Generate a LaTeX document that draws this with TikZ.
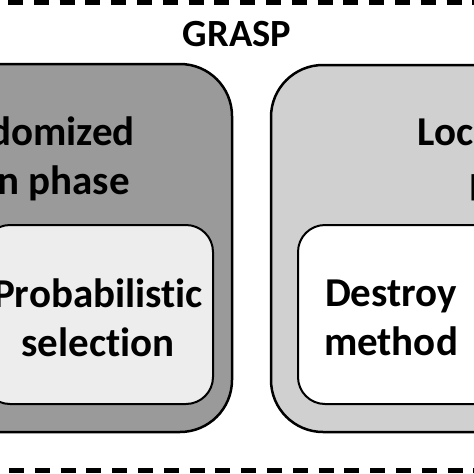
\documentclass[tikz,border=0pt]{standalone}
\usepackage{fontspec}
\setmainfont{Carlito}[Ligatures=NoCommon]
\definecolor{outerdark}{HTML}{9A9A9A}
\definecolor{outerlight}{HTML}{D0D0D0}
\definecolor{innerlight}{HTML}{EDEDED}
\tikzset{
  dashrule/.style={line width=5pt, dash pattern=on 15pt off 10.8pt},
  outerbox/.style={draw=black, line width=2.5pt, rounded corners=52pt},
  innerbox/.style={draw=black, line width=2pt, rounded corners=27pt},
  boxtext/.style={font=\bfseries\fontsize{41}{49}\selectfont, align=center, inner sep=0pt},
  titletext/.style={font=\bfseries\fontsize{38.5}{42}\selectfont, inner sep=0pt}
}
\begin{document}
\begin{tikzpicture}[x=1pt,y=-1pt]
\useasboundingbox (0,0) rectangle (474,474);
\clip (0,0) rectangle (474,474);
\coordinate (t1) at (8,2.5);
\coordinate (t2) at (480,2.5);
\coordinate (b1) at (9,470.5);
\coordinate (b2) at (480,470.5);
\draw[dashrule] (t1) -- (t2);
\draw[dashrule] (b1) -- (b2);
\node[titletext] (grasp) at (237,34) {GRASP};
% left outer
\path[outerbox, fill=outerdark] (-300,64) rectangle (232,432);
\path[innerbox, fill=innerlight] (-17,225) rectangle (213,404);
% right outer
\path[outerbox, fill=outerlight] (271,65) rectangle (760,432);
\path[innerbox, fill=white] (298,225) rectangle (700,404);
\node[boxtext] (constr) at (-32,159) {Greedy randomized\\construction phase};
\node[boxtext] (local) at (520.5,159) {Local search\\phase};
\node[boxtext] (prob) at (98,318) {Probabilistic\\selection};
\node[boxtext] (destroy) at (391,318) {Destroy\\method};
\end{tikzpicture}
\end{document}
